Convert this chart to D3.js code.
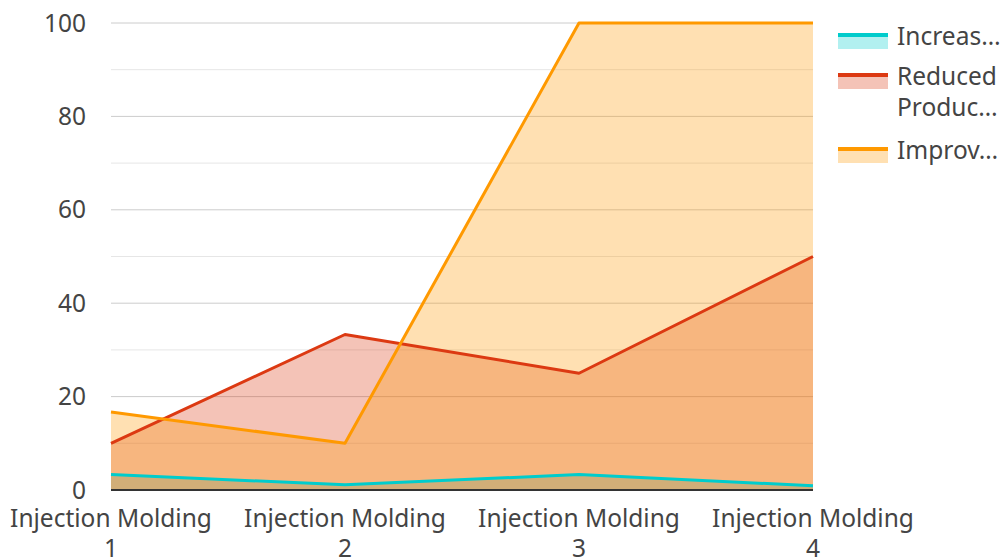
<!DOCTYPE html>
<html>
<head>
<meta charset="utf-8">
<script src="https://cdn.jsdelivr.net/npm/d3@7"></script>
<style>
  body { margin: 0; background: #fff; }
  text { font-family: "Noto Sans", sans-serif; fill: #444; }
</style>
</head>
<body>
<svg width="1003" height="560"></svg>
<script>
const categories = ['Injection Molding 1', 'Injection Molding 2', 'Injection Molding 3', 'Injection Molding 4'];
const seriesNames = [['Increas…'], ['Reduced', 'Produc…'], ['Improv…']];
const increased = [3.3, 1.1, 3.3, 0.9];
const reduced = [10, 33.3, 25, 50];
const improved = [16.7, 10, 100, 100];
const yTicks = [0, 20, 40, 60, 80, 100];

const colors = ['#00cccc', '#dc3912', '#ff9900'];
const series = [increased, reduced, improved];

const svg = d3.select('svg');
const margin = { left: 111, right: 190, top: 23, bottom: 70 };
const width = +svg.attr('width');
const height = +svg.attr('height');
const fontSize = 24.5;

const x = d3.scalePoint().domain(categories).range([margin.left, width - margin.right]);
const y = d3.scaleLinear().domain([0, 100]).range([height - margin.bottom, margin.top]);

// grid
const grid = svg.append('g');
grid.selectAll('line.minor').data(d3.range(10, 100, 20))
  .enter().append('line')
  .attr('x1', margin.left).attr('x2', width - margin.right)
  .attr('y1', d => y(d)).attr('y2', d => y(d))
  .attr('stroke', '#e6e6e6').attr('stroke-width', 1);
grid.selectAll('line.major').data(yTicks.filter(d => d > 0))
  .enter().append('line')
  .attr('x1', margin.left).attr('x2', width - margin.right)
  .attr('y1', d => y(d)).attr('y2', d => y(d))
  .attr('stroke', '#cccccc').attr('stroke-width', 1);

// y labels
svg.append('g').selectAll('text').data(yTicks)
  .enter().append('text')
  .attr('x', 86).attr('y', d => y(d))
  .attr('dy', '0.35em')
  .attr('text-anchor', 'end')
  .attr('font-size', fontSize)
  .text(d => d);

const area = d3.area()
  .x((d, i) => x(categories[i]))
  .y0(y(0))
  .y1(d => y(d));
const line = d3.line()
  .x((d, i) => x(categories[i]))
  .y(d => y(d));

series.forEach((s, k) => {
  svg.append('path').datum(s)
    .attr('d', area)
    .attr('fill', colors[k])
    .attr('fill-opacity', 0.3);
});
series.forEach((s, k) => {
  svg.append('path').datum(s)
    .attr('d', line)
    .attr('fill', 'none')
    .attr('stroke', colors[k])
    .attr('stroke-width', 3)
    .attr('stroke-linejoin', 'round');
});

// baseline
svg.append('line')
  .attr('x1', margin.left).attr('x2', width - margin.right)
  .attr('y1', y(0)).attr('y2', y(0))
  .attr('stroke', '#333').attr('stroke-width', 2);

// x labels
const xl = svg.append('g').selectAll('text').data(categories)
  .enter().append('text')
  .attr('x', d => x(d))
  .attr('y', 527)
  .attr('text-anchor', 'middle')
  .attr('font-size', fontSize);
xl.append('tspan').attr('x', d => x(d)).text(d => d.replace(/ \d+$/, ''));
xl.append('tspan').attr('x', d => x(d)).attr('dy', 30).text(d => d.match(/\d+$/)[0]);

// legend
const legendY = [36, 76, 150];
const lg = svg.append('g');
seriesNames.forEach((names, k) => {
  const g = lg.append('g').attr('transform', `translate(838,${legendY[k]})`);
  g.append('rect').attr('x', 0).attr('y', -3).attr('width', 50).attr('height', 16)
    .attr('fill', colors[k]).attr('fill-opacity', 0.3);
  g.append('rect').attr('x', 0).attr('y', -3).attr('width', 50).attr('height', 4)
    .attr('fill', colors[k]);
  names.forEach((n, j) => {
    g.append('text').attr('x', 59).attr('y', j * 31).attr('dy', '0.35em')
      .attr('font-size', fontSize).text(n);
  });
});
</script>
</body>
</html>
